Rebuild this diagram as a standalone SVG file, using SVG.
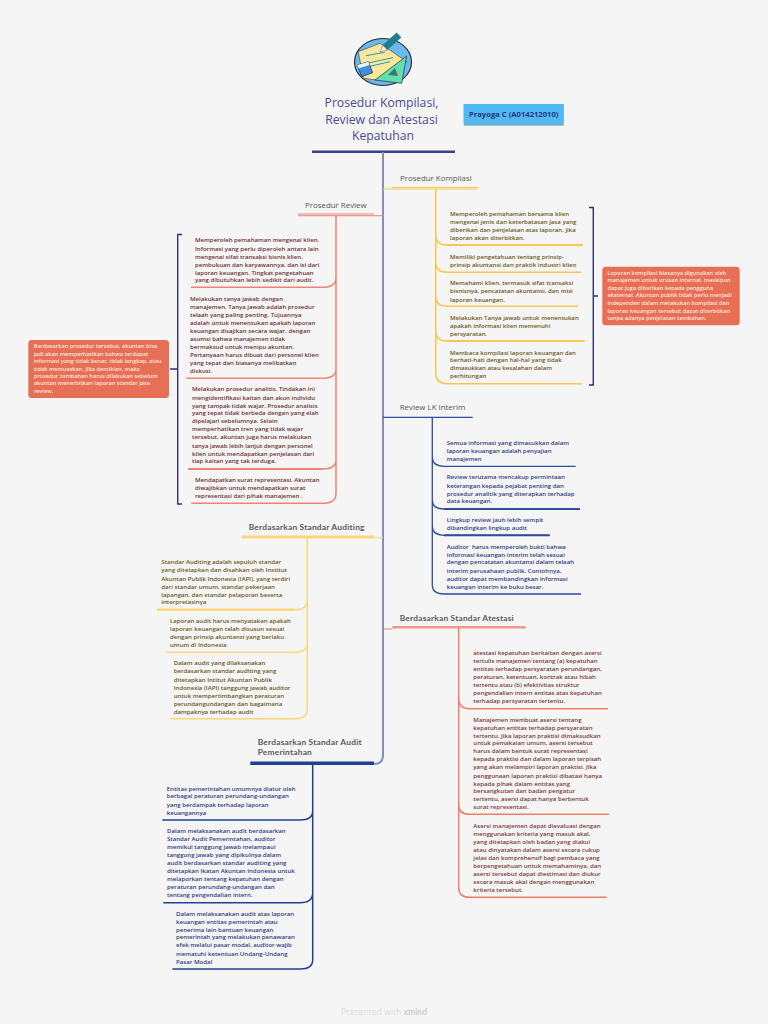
<svg xmlns="http://www.w3.org/2000/svg" width="768" height="1024" viewBox="0 0 768 1024">
<style>
text{font-family:"Open Sans","Noto Sans","Liberation Sans",sans-serif}
.b{font-size:6.07px;font-weight:600}
.y{fill:#6b5720}.r{fill:#6e2f33}.n{fill:#2f3c83}.a{fill:#7a3a38}
.w{font-size:5.62px;font-weight:600;fill:#fbe6df}
.h{font-size:7.9px;fill:#555}
.q{font-family:Lato,"Open Sans",sans-serif;font-size:8.4px;font-weight:700;fill:#5a5a62;letter-spacing:.2px}
.t{font-size:12.2px;fill:#4b4b92;text-anchor:middle}
path,line{fill:none;stroke-linecap:butt}
.cy{stroke:#fbc650}.cr{stroke:#ee8472}.cn{stroke:#2f4c9e}.cp{stroke:#fdd67c}.ca{stroke:#ee7f68}.cb{stroke:#21408f}
.br{stroke:#2b2f80;stroke-width:1.4}
.note{fill:#e66f55}
</style>
<rect width="768" height="1024" fill="#f5f5f5"/>
<g id="connectors">
<path d="M312 151.7H455" stroke="#3d4086" stroke-width="2.6"/>
<path d="M383 152V755Q383 764 374 764" stroke="#7f8fc0" stroke-width="2"/>
<path class="cy" d="M383 189H478M392 187.4H478" stroke-width="1"/>
<path class="cy" stroke-width="1.5" d="M435.7 189V235Q435.7 245 447 245H582.7M435.7 235V262Q435.7 272.3 447 272.3H581M435.7 262V296Q435.7 306.3 447 306.3H578M435.7 296V331Q435.7 341 447 341H584.7M435.7 331V373Q435.7 383.7 447 383.7H582"/>
<path class="cy" stroke-width="2.1" d="M447 245H582.7M447 341H584.7"/>
<path class="cr" d="M298 214H374M298 215.7H383" stroke-width="1"/>
<path class="cr" stroke-width="1.5" d="M336 216V278Q336 287.3 322 287.3H191M336 278V369Q336 378.3 322 378.3H186.3M336 369V460Q336 469 322 469H188.3M336 460V494Q336 503.3 322 503.3H191.3"/>
<path class="cr" stroke-width="2.2" d="M322 469H188.3"/>
<path class="cn" d="M383 417.3H472.7" stroke-width="1.3"/>
<path class="cn" stroke-width="1.3" d="M432.3 417V457Q432.3 466.3 444 466.3H575.7M432.3 457V500Q432.3 509 444 509H580M432.3 500V526Q432.3 535.3 444 535.3H549.7M432.3 526V585Q432.3 594 444 594H581"/>
<path class="cn" stroke-width="2" d="M444 509H580M444 535.3H549.7"/>
<path class="cp" d="M241.7 537H374" stroke-width="3"/>
<path class="cp" d="M374 537.7H383" stroke-width="1"/>
<path class="cp" stroke-width="1.5" d="M307.3 538V600Q307.3 609.7 295 609.7H157.3M307.3 600V643Q307.3 652.3 295 652.3H165.7M307.3 643V709Q307.3 718.7 295 718.7H170"/>
<path class="cp" stroke-width="2.2" d="M295 609.7H157.3"/>
<path class="ca" d="M383 629H392" stroke-width="1"/>
<path d="M392.3 627.3H525.7" stroke="#ef9887" stroke-width="2.6"/>
<path class="ca" stroke-width="1.5" d="M458.7 628V699Q458.7 708.7 470 708.7H608M458.7 699V805Q458.7 814.3 470 814.3H609M458.7 805V888Q458.7 897.3 470 897.3H606.7"/>
<path class="cb" d="M250.3 763.3H374" stroke-width="3.4"/>
<path class="cb" stroke-width="1.5" d="M312.7 764V811Q312.7 820 300 820H162.3M312.7 811V893Q312.7 902.7 300 902.7H163.3M312.7 893V960Q312.7 969 300 969H172.3"/>
<path class="br" d="M589 207.5H593.3V385H589M593.3 296H598"/>
<path class="br" d="M182 234.5H177.7V504H182M177.7 369H170"/>
</g>
<g id="central">
<g id="icon">
<ellipse cx="383" cy="62" rx="28.5" ry="23.5" fill="#6bb9ef" stroke="#2a2a2a" stroke-width="1.2"/>
<polygon points="358.3,51.7 380,43.3 406.7,61.7 376.7,80 363.3,78.3" fill="#fde79c" stroke="#3a3a3a" stroke-width=".6"/>
<path d="M366 55.7L385 52.3M368 63L393 57.7M368 66.7L390 61.7" stroke="#2a9aa8" stroke-width="1"/>
<polygon points="357.3,65 368.3,61.7 372.7,72.7 361.7,76.7" fill="#3f8fe0" stroke="#2a2a2a" stroke-width=".7"/>
<polygon points="357.3,65 368.3,61.7 369.5,65 358.6,68.4" fill="#e8f2fb"/>
<polygon points="406.7,56 401.7,83.3 375,80" fill="#62deb0" stroke="#2a2a2a" stroke-width=".7"/>
<polygon points="395,68 398,76 388,75" fill="#3a7a6c"/>
<path d="M385 47.5L399 35" stroke="#1f7d8c" stroke-width="7"/>
<polygon points="380,52 383,45.3 387.5,50" fill="#f4f1e4" stroke="#333" stroke-width=".4"/>
</g>
<text class="t"><tspan x="381.5" y="107">Prosedur Kompilasi,</tspan><tspan x="381.5" y="123.5">Review dan Atestasi</tspan><tspan x="383" y="140">Kepatuhan</tspan></text>
</g>
<g id="author">
<rect x="463.7" y="104" width="100" height="21.7" fill="#6ab0d6"/>
<rect x="463.7" y="104" width="100" height="18.3" fill="#4fb9f6"/>
<text x="513.7" y="116.5" text-anchor="middle" font-size="7.65" font-weight="700" fill="#2b3478">Prayoga C (A014212010)</text>
</g>
<g id="kompilasi">
<text class="h" x="400" y="181">Prosedur Kompilasi</text>
<text class="b y"><tspan x="450" y="215.5">Memperoleh pemahaman bersama klien</tspan><tspan x="450" y="223.9">mengenai jenis dan keterbatasan jasa yang</tspan><tspan x="450" y="231.9">diberikan dan penjelasan atas laporan, jika</tspan><tspan x="450" y="240.2">laporan akan diterbitkan.</tspan></text>
<text class="b y"><tspan x="450" y="258.5">Memiliki pengetahuan tentang prinsip-</tspan><tspan x="450" y="266.5">prinsip akuntansi dan praktik industri klien</tspan></text>
<text class="b y"><tspan x="450" y="285.2">Memahami klien, termasuk sifat transaksi</tspan><tspan x="450" y="293.2">bisnisnya, pencatatan akuntansi, dan misi</tspan><tspan x="450" y="301.5">laporan keuangan.</tspan></text>
<text class="b y"><tspan x="450" y="320">Melakukan Tanya jawab untuk menentukan</tspan><tspan x="450" y="328">apakah informasi klien memenuhi</tspan><tspan x="450" y="335.6">persyaratan.</tspan></text>
<text class="b y"><tspan x="450" y="354.5">Membaca kompilasi laporan keuangan dan</tspan><tspan x="450" y="362">berhati-hati dengan hal-hal yang tidak</tspan><tspan x="450" y="370">dimasukkan atau kesalahan dalam</tspan><tspan x="450" y="378">perhitungan</tspan></text>
</g>
<g id="note-kompilasi">
<rect class="note" x="602.3" y="266.7" width="137.4" height="58.6" rx="3.5"/>
<text class="w"><tspan x="607.5" y="274.7">Laporan kompilasi biasanya digunakan oleh</tspan><tspan x="607.5" y="282.3">manajemen untuk urusan internal, meskipun</tspan><tspan x="607.5" y="289.7">dapat juga diberikan kepada pengguna</tspan><tspan x="607.5" y="297.3">eksternal. Akuntan publik tidak perlu menjadi</tspan><tspan x="607.5" y="304.7">independen dalam melakukan kompilasi dan</tspan><tspan x="607.5" y="312.7">laporan keuangan tersebut dapat diterbitkan</tspan><tspan x="607.5" y="319.7">tanpa adanya penjelasan tambahan.</tspan></text>
</g>
<g id="review">
<text class="h" x="305" y="207.5">Prosedur Review</text>
<text class="b r"><tspan x="195" y="242.2">Memperoleh pemahaman mengenai klien.</tspan><tspan x="195" y="250.5">Informasi yang perlu diperoleh antara lain</tspan><tspan x="195" y="258.5">mengenai sifat transaksi bisnis klien,</tspan><tspan x="195" y="266.9">pembukuan dan karyawannya, dan isi dari</tspan><tspan x="195" y="274.5">laporan keuangan. Tingkat pengetahuan</tspan><tspan x="195" y="282.2">yang dibutuhkan lebih sedikit dari audit.</tspan></text>
<text class="b r"><tspan x="190" y="301.2">Melakukan tanya jawab dengan</tspan><tspan x="190" y="308.9">manajemen. Tanya jawab adalah prosedur</tspan><tspan x="190" y="316.9">telaah yang paling penting. Tujuannya</tspan><tspan x="190" y="325.2">adalah untuk menentukan apakah laporan</tspan><tspan x="190" y="333.2">keuangan disajikan secara wajar, dengan</tspan><tspan x="190" y="341.2">asumsi bahwa manajemen tidak</tspan><tspan x="190" y="348.9">bermaksud untuk menipu akuntan.</tspan><tspan x="190" y="356.5">Pertanyaan harus dibuat dari personel klien</tspan><tspan x="190" y="364.9">yang tepat dan biasanya melibatkan</tspan><tspan x="190" y="372.9">diskusi.</tspan></text>
<text class="b r"><tspan x="192" y="391.2">Melakukan prosedur analitis. Tindakan ini</tspan><tspan x="192" y="399.5">mengidentifikasi kaitan dan akun individu</tspan><tspan x="192" y="407.9">yang tampak tidak wajar. Prosedur analisis</tspan><tspan x="192" y="414.9">yang tepat tidak berbeda dengan yang elah</tspan><tspan x="192" y="422.9">dipelajari sebelumnya. Selain</tspan><tspan x="192" y="431.2">memperhatikan tren yang tidak wajar</tspan><tspan x="192" y="439.2">tersebut, akuntan juga harus melakukan</tspan><tspan x="192" y="447.5">tanya jawab lebih lanjut dengan personel</tspan><tspan x="192" y="455.5">klien untuk mendapatkan penjelasan dari</tspan><tspan x="192" y="463.2">tiap kaitan yang tak terduga.</tspan></text>
<text class="b r"><tspan x="195" y="482.2">Mendapatkan surat representasi. Akuntan</tspan><tspan x="195" y="489.5">diwajibkan untuk mendapatkan surat</tspan><tspan x="195" y="497.5">representasi dari pihak manajemen .</tspan></text>
</g>
<g id="note-review">
<rect class="note" x="28.3" y="340" width="140.7" height="58" rx="3.5"/>
<text class="w"><tspan x="33.7" y="348.3">Berdasarkan prosedur tersebut, akuntan bisa</tspan><tspan x="33.7" y="355.7">jadi akan memperhatikan bahwa terdapat</tspan><tspan x="33.7" y="363">informasi yang tidak benar, tidak lengkap, atau</tspan><tspan x="33.7" y="371">tidak memuaskan. Jika demikian, maka</tspan><tspan x="33.7" y="378">prosedur tambahan harus dilakukan sebelum</tspan><tspan x="33.7" y="385.3">akuntan menerbitkan laporan standar jasa</tspan><tspan x="33.7" y="393.3">review.</tspan></text>
</g>
<g id="interim">
<text class="h" x="399.7" y="410">Review LK Interim</text>
<text class="b n"><tspan x="446.7" y="444.5">Semua informasi yang dimasukkan dalam</tspan><tspan x="446.7" y="452.9">laporan keuangan adalah penyajian</tspan><tspan x="446.7" y="461.2">manajemen</tspan></text>
<text class="b n"><tspan x="446.7" y="479.2">Review terutama mencakup permintaan</tspan><tspan x="446.7" y="487.5">keterangan kepada pejabat penting dan</tspan><tspan x="446.7" y="495.9">prosedur analitik yang diterapkan terhadap</tspan><tspan x="446.7" y="503.2">data keuangan.</tspan></text>
<text class="b n"><tspan x="446.7" y="521.9">Lingkup review jauh lebih sempit</tspan><tspan x="446.7" y="529.5">dibandingkan lingkup audit</tspan></text>
<text class="b n" xml:space="preserve"><tspan x="446.7" y="548.9">Auditor  harus memperoleh bukti bahwa</tspan><tspan x="446.7" y="556.9">informasi keuangan interim telah sesuai</tspan><tspan x="446.7" y="564.2">dengan pencatatan akuntansi dalam telaah</tspan><tspan x="446.7" y="572.5">interim perusahaan publik. Contohnya,</tspan><tspan x="446.7" y="580.5">auditor dapat membandingkan informasi</tspan><tspan x="446.7" y="588.9">keuangan interim ke buku besar.</tspan></text>
</g>
<g id="auditing">
<text class="q" x="248.7" y="529.5">Berdasarkan Standar Auditing</text>
<text class="b y"><tspan x="161.3" y="563.9">Standar Auditing adalah sepuluh standar</tspan><tspan x="161.3" y="572.2">yang ditetapkan dan disahkan oleh Institut</tspan><tspan x="161.3" y="580.5">Akuntan Publik Indonesia (IAPI), yang terdiri</tspan><tspan x="161.3" y="588.5">dari standar umum, standar pekerjaan</tspan><tspan x="161.3" y="596.9">lapangan, dan standar pelaporan beserta</tspan><tspan x="161.3" y="604.2">interpretasinya</tspan></text>
<text class="b y"><tspan x="170" y="623.2">Laporan audit harus menyatakan apakah</tspan><tspan x="170" y="630.9">laporan keuangan telah disusun sesuai</tspan><tspan x="170" y="638.9">dengan prinsip akuntansi yang berlaku</tspan><tspan x="170" y="646.9">umum di Indonesia</tspan></text>
<text class="b y"><tspan x="173.7" y="664.9">Dalam audit yang dilaksanakan</tspan><tspan x="173.7" y="673.2">berdasarkan standar auditing yang</tspan><tspan x="173.7" y="681.5">ditetapkan Intitut Akuntan Publik</tspan><tspan x="173.7" y="689.9">Indonesia (IAPI) tanggung jawab auditor</tspan><tspan x="173.7" y="697.9">untuk mempertimbangkan peraturan</tspan><tspan x="173.7" y="705.5">perundangundangan dan bagaimana</tspan><tspan x="173.7" y="713.5">dampaknya terhadap audit</tspan></text>
</g>
<g id="atestasi">
<text class="q" x="399.7" y="620.5">Berdasarkan Standar Atestasi</text>
<text class="b a"><tspan x="473.3" y="654.9">atestasi kepatuhan berkaitan dengan asersi</tspan><tspan x="473.3" y="662.9">tertulis manajemen tentang (a) kepatuhan</tspan><tspan x="473.3" y="670.9">entitas terhadap persyaratan perundangan,</tspan><tspan x="473.3" y="678.5">peraturan, ketentuan, kontrak atau hibah</tspan><tspan x="473.3" y="686.9">tertentu atau (b) efektivitas struktur</tspan><tspan x="473.3" y="694.9">pengendalian intern entitas atas kepatuhan</tspan><tspan x="473.3" y="703.2">terhadap persyaratan tertentu.</tspan></text>
<text class="b a"><tspan x="473.3" y="721.5">Manajemen membuat asersi tentang</tspan><tspan x="473.3" y="729.5">kepatuhan entitas terhadap persyaratan</tspan><tspan x="473.3" y="737.5">tertentu. Jika laporan praktisi dimaksudkan</tspan><tspan x="473.3" y="744.9">untuk pemakaian umum, asersi tersebut</tspan><tspan x="473.3" y="752.9">harus dalam bentuk surat representasi</tspan><tspan x="473.3" y="761.2">kepada praktisi dan dalam laporan terpisah</tspan><tspan x="473.3" y="769.2">yang akan melampiri laporan praktisi. Jika</tspan><tspan x="473.3" y="777.5">penggunaan laporan praktisi dibatasi hanya</tspan><tspan x="473.3" y="785.5">kepada pihak dalam entitas yang</tspan><tspan x="473.3" y="793.2">bersangkutan dan badan pengatur</tspan><tspan x="473.3" y="800.9">tertentu, asersi dapat hanya berbentuk</tspan><tspan x="473.3" y="809.2">surat representasi.</tspan></text>
<text class="b a"><tspan x="473.3" y="827.9">Asersi manajemen dapat dievaluasi dengan</tspan><tspan x="473.3" y="836.2">menggunakan kriteria yang masuk akal,</tspan><tspan x="473.3" y="844.2">yang ditetapkan oleh badan yang diakui</tspan><tspan x="473.3" y="851.9">atau dinyatakan dalam asersi secara cukup</tspan><tspan x="473.3" y="859.5">jelas dan komprehensif bagi pembaca yang</tspan><tspan x="473.3" y="867.5">berpengetahuan untuk memahaminya, dan</tspan><tspan x="473.3" y="875.5">asersi tersebut dapat diestimasi dan diukur</tspan><tspan x="473.3" y="883.9">secara masuk akal dengan menggunakan</tspan><tspan x="473.3" y="891.9">kriteria tersebut.</tspan></text>
</g>
<g id="pemerintahan">
<text class="q"><tspan x="257.7" y="745">Berdasarkan Standar Audit</tspan><tspan x="257.7" y="755.3">Pemerintahan</tspan></text>
<text class="b n"><tspan x="166.7" y="790.9">Entitas pemerintahan umumnya diatur oleh</tspan><tspan x="166.7" y="798.2">berbagai peraturan perundang-undangan</tspan><tspan x="166.7" y="806.5">yang berdampak terhadap laporan</tspan><tspan x="166.7" y="814.5">keuangannya</tspan></text>
<text class="b n"><tspan x="167" y="832.9">Dalam melaksanakan audit berdasarkan</tspan><tspan x="167" y="840.9">Standar Audit Pemerintahan, auditor</tspan><tspan x="167" y="849.2">memikul tanggung jawab melampaui</tspan><tspan x="167" y="857.2">tanggung jawab yang dipikulnya dalam</tspan><tspan x="167" y="865.2">audit berdasarkan standar auditing yang</tspan><tspan x="167" y="872.9">ditetapkan Ikatan Akuntan Indonesia untuk</tspan><tspan x="167" y="880.9">melaporkan tentang kepatuhan dengan</tspan><tspan x="167" y="889.2">peraturan perundang-undangan dan</tspan><tspan x="167" y="897.2">tentang pengendalian intern.</tspan></text>
<text class="b n"><tspan x="176" y="915.9">Dalam melaksanakan audit atas laporan</tspan><tspan x="176" y="923.9">keuangan entitas pemerintah atau</tspan><tspan x="176" y="931.9">penerima lain bantuan keuangan</tspan><tspan x="176" y="939.2">pemerintah yang melakukan penawaran</tspan><tspan x="176" y="947.2">efek melalui pasar modal, auditor wajib</tspan><tspan x="176" y="955.5">mematuhi ketentuan Undang-Undang</tspan><tspan x="176" y="963.5">Pasar Modal</tspan></text>
</g>
<g id="footer">
<text x="341" y="1015" font-size="8.6" fill="#dcdcdc">Presented with <tspan font-family="Lato,sans-serif" font-weight="700" fill="#cfcfcf">xmind</tspan></text>
</g>
</svg>
